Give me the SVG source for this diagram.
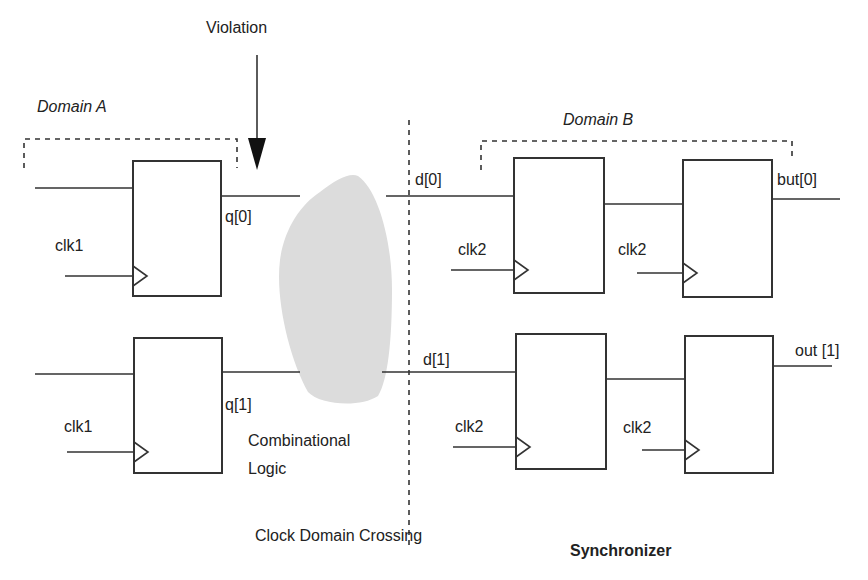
<svg xmlns="http://www.w3.org/2000/svg" width="868" height="580" viewBox="0 0 868 580">
<style>
.b{fill:#fff;stroke:#333;stroke-width:2}
.w{fill:none;stroke:#333;stroke-width:1.6}
.d{fill:none;stroke:#333;stroke-width:1.6;stroke-dasharray:5,5}
text{font-family:"Liberation Sans",Arial,sans-serif;font-size:16px;fill:#222}
.i{font-style:italic}
</style>
<rect width="868" height="580" fill="#fff"/>
<path d="M320,192 C335,180 350,172 358,176 C378,190 392,240 392,290 C392,340 388,380 378,396 C360,408 320,405 308,392 C290,360 275,300 280,260 C284,230 300,205 320,192 Z" fill="#dcdcdc"/>
<g id="connectors">
<path class="w" d="M35,188H133M65,276H133M221,196H300M386,196H514M35,374H134M67,452H134M222,372H300M382,372H516M451,270H514M604,204H683M637,273H683M772,199H840M453,447H516M606,379H685M642,450H685M773,366H832"/>
<path class="d" d="M409,120V545"/>
<path class="d" d="M24,168V139H237V168"/>
<path class="d" d="M481,170V141H792V160"/>
<path class="w" d="M257,55V140"/>
<path d="M248,138H266L257,170Z" fill="#111"/>
</g>
<g id="ffA1"><rect class="b" x="133" y="161" width="88" height="135"/><path class="w" d="M133,266L147,276L133,286"/></g>
<g id="ffA2"><rect class="b" x="134" y="338" width="88" height="135"/><path class="w" d="M134,442L148,452L134,462"/></g>
<g id="ffB1"><rect class="b" x="514" y="158" width="90" height="135"/><path class="w" d="M514,260L528,270L514,280"/></g>
<g id="ffB2"><rect class="b" x="683" y="160" width="89" height="137"/><path class="w" d="M683,263L697,273L683,283"/></g>
<g id="ffB3"><rect class="b" x="516" y="334" width="90" height="135"/><path class="w" d="M516,437L530,447L516,457"/></g>
<g id="ffB4"><rect class="b" x="685" y="336" width="88" height="137"/><path class="w" d="M685,440L699,450L685,460"/></g>
<g id="labels">
<text x="206" y="33">Violation</text>
<text class="i" x="37" y="112" font-size="15">Domain A</text>
<text class="i" x="563" y="125" font-size="15">Domain B</text>
<text x="225" y="222">q[0]</text>
<text x="225" y="410">q[1]</text>
<text x="55" y="251">clk1</text>
<text x="64" y="432">clk1</text>
<text x="415" y="185">d[0]</text>
<text x="423" y="365">d[1]</text>
<text x="458" y="255">clk2</text>
<text x="455" y="432">clk2</text>
<text x="618" y="255">clk2</text>
<text x="623" y="433">clk2</text>
<text x="777" y="185">but[0]</text>
<text x="795" y="356">out [1]</text>
<text x="248" y="446">Combinational</text>
<text x="248" y="474">Logic</text>
<text x="255" y="541">Clock Domain Crossing</text>
<text x="570" y="556" font-weight="bold">Synchronizer</text>
</g>
</svg>
